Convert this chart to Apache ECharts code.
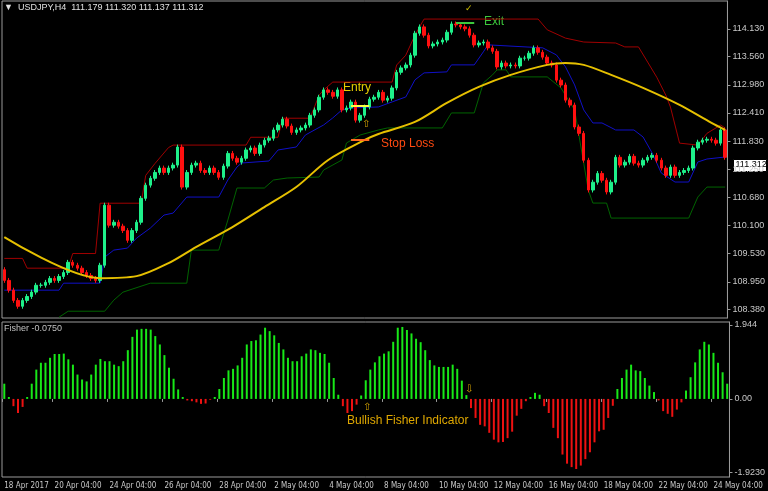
<!DOCTYPE html>
<html><head><meta charset="utf-8">
<script src="https://cdn.jsdelivr.net/npm/echarts@6/dist/echarts.min.js"></script>
<style>html,body{margin:0;padding:0;background:#000}#c{width:768px;height:491px}</style>
</head><body><div id="c"></div>
<script>
const firstOpen = 109.20;
const closes = [108.98,108.78,108.57,108.45,108.57,108.65,108.74,108.88,108.88,108.94,109.02,108.98,109.06,109.14,109.35,109.29,109.23,109.14,109.08,109.02,108.98,109.29,110.52,110.11,110.17,110.09,110.00,109.80,110.00,110.17,110.66,110.93,111.07,111.19,111.28,111.19,111.28,111.34,111.71,110.89,111.19,111.34,111.38,111.23,111.19,111.28,111.19,111.09,111.32,111.58,111.48,111.40,111.48,111.65,111.69,111.58,111.75,111.85,111.89,112.06,112.16,112.28,112.14,112.01,112.06,112.10,112.16,112.36,112.47,112.73,112.88,112.83,112.75,112.88,112.47,112.51,112.63,112.26,112.36,112.53,112.69,112.73,112.83,112.67,112.71,112.92,113.24,113.33,113.39,113.59,114.04,114.17,114.00,113.78,113.82,113.86,113.90,114.06,114.23,114.21,114.17,114.13,114.00,113.80,113.84,113.86,113.74,113.67,113.35,113.43,113.37,113.39,113.37,113.53,113.53,113.63,113.74,113.65,113.55,113.43,113.39,113.08,112.98,112.67,112.57,112.12,111.99,111.44,110.83,110.99,111.17,111.03,110.79,110.99,111.50,111.34,111.40,111.52,111.38,111.34,111.44,111.50,111.54,111.44,111.28,111.13,111.30,111.13,111.19,111.23,111.28,111.69,111.81,111.85,111.87,111.85,111.79,112.06,111.50];
const wick = 0.05;
const upperKnots = [[0,109.43],[4,109.43],[5,109.23],[14,109.23],[15,109.53],[20,109.53],[21,110.56],[30,110.56],[31,111.13],[33,111.37],[36,111.70],[37,111.75],[53,111.75],[54,111.91],[60,111.91],[61,112.30],[67,112.30],[69,112.77],[70,112.88],[72,113.04],[85,113.04],[86,113.39],[88,113.59],[90,114.00],[92,114.33],[117,114.33],[119,114.11],[123,113.94],[127,113.86],[134,113.84],[136,113.76],[139,113.76],[141,113.45],[143,113.14],[145,112.77],[146,112.53],[148,111.79],[152,111.75],[154,111.99],[157,112.16],[158,112.10]];
const midKnotsY = [[0,290],[12,290],[13,283],[21,283],[22,257],[24,250],[27,248],[29,238],[32,228],[35,215],[37,213],[40,197],[47,197],[49,180],[51,167],[52,163],[58,161],[60,150],[64,147],[66,135],[70,125],[72,118],[74,110],[76,108],[82,107],[85,102],[88,97],[90,80],[92,73],[97,72],[98,65],[103,65],[105,52],[106,45],[118,48],[121,55],[123,67],[125,85],[127,110],[129,123],[131,123],[134,130],[138,130],[140,137],[142,153],[144,173],[147,182],[150,182],[152,162],[154,159],[158,157]];
const lowKnotsY = [[12,317],[14,311],[22,311],[24,300],[26,292],[32,283],[40,283],[41,250],[47,250],[49,220],[51,188],[57,188],[59,180],[62,178],[69,177],[70,170],[74,160],[75,143],[78,135],[82,130],[84,128],[96,128],[98,113],[103,113],[105,83],[107,75],[108,70],[110,70],[111,77],[119,77],[122,88],[125,110],[128,190],[129,203],[132,203],[133,218],[150,218],[152,197],[154,187],[158,187]];
const maKnotsY = [[0,237],[21,278],[29,276],[36,263],[42,247],[50,227],[57,207],[64,187],[71,160],[79,140],[82,134],[90,122],[97,103],[104,87],[111,75],[119,65],[123,63],[127,65],[133,75],[140,88],[148,105],[155,123],[158,130]];
const fisher = [0.40,0.05,-0.19,-0.37,-0.21,0.05,0.40,0.77,0.95,0.95,1.08,1.18,1.18,1.19,1.04,0.90,0.64,0.51,0.46,0.64,0.90,1.05,0.99,0.99,0.90,0.86,0.99,1.28,1.63,1.82,1.84,1.84,1.82,1.65,1.43,1.15,0.82,0.53,0.25,0.05,-0.04,-0.06,-0.09,-0.13,-0.12,-0.02,0.05,0.26,0.55,0.75,0.79,0.88,1.08,1.43,1.52,1.54,1.69,1.87,1.78,1.67,1.47,1.30,1.08,0.99,0.99,1.12,1.19,1.30,1.28,1.21,1.18,0.95,0.55,0.11,-0.19,-0.37,-0.32,-0.15,0.09,0.49,0.77,0.96,1.12,1.19,1.25,1.50,1.87,1.89,1.81,1.72,1.58,1.49,1.28,1.02,0.88,0.84,0.84,0.84,0.90,0.79,0.48,0.10,-0.24,-0.50,-0.68,-0.72,-0.89,-1.07,-1.14,-1.13,-1.03,-0.86,-0.44,-0.26,-0.06,0.05,0.16,0.11,-0.19,-0.37,-0.76,-1.03,-1.46,-1.70,-1.79,-1.84,-1.75,-1.58,-1.40,-1.14,-0.85,-0.81,-0.50,-0.18,0.26,0.55,0.77,0.90,0.75,0.73,0.55,0.35,0.18,-0.04,-0.32,-0.39,-0.47,-0.28,-0.09,0.22,0.57,0.96,1.30,1.50,1.43,1.21,0.95,0.70,0.40,0.11];
const priceTicks = [108.380,108.950,109.530,110.100,110.680,111.250,111.830,112.410,112.980,113.560,114.130];
const fisherTicks = [1.944,0,-1.923];
const timeLabels = {0:'18 Apr 2017',11:'20 Apr 04:00',23:'24 Apr 04:00',35:'26 Apr 04:00',47:'28 Apr 04:00',59:'2 May 04:00',71:'4 May 04:00',83:'8 May 04:00',95:'10 May 04:00',107:'12 May 04:00',119:'16 May 04:00',131:'18 May 04:00',143:'22 May 04:00',155:'24 May 04:00'};

const rowToPrice = y => +(114.7245 - 0.0205*y).toFixed(3);
const N = closes.length;
const cats = closes.map((_,i)=>String(i));
const ohlc = closes.map((c,i)=>{const o=i?closes[i-1]:firstOpen;return [o,c,Math.min(o,c)-wick,Math.max(o,c)+wick];});
const midKnots = midKnotsY.map(([i,y])=>[i,rowToPrice(y)]);
const lowKnots = lowKnotsY.map(([i,y])=>[i,rowToPrice(y)]);
const maKnots = maKnotsY.map(([i,y])=>[i,rowToPrice(y)]);
const fis = fisher.slice(0,N);

const chart = echarts.init(document.getElementById('c'));
const txt = '#c8c8c8';
chart.setOption({
  backgroundColor:'#000', animation:false,
  grid:[{left:2,right:37,top:1,height:317,show:true,borderColor:'#9a9a9a',borderWidth:1},
        {left:2,right:37,top:322,height:155,show:true,borderColor:'#9a9a9a',borderWidth:1}],
  xAxis:[{type:'category',data:cats,gridIndex:0,boundaryGap:true,axisLine:{show:false},axisTick:{show:false},axisLabel:{show:false}},
         {type:'category',data:cats,gridIndex:1,boundaryGap:true,axisLine:{show:false},
          axisTick:{show:true,interval:(i)=>timeLabels[i]!==undefined,length:3,lineStyle:{color:'#9a9a9a'}},
          axisLabel:{interval:(i)=>timeLabels[i]!==undefined,formatter:(v,i)=>timeLabels[i]||'',color:txt,fontSize:8,fontFamily:'DejaVu Sans Condensed',align:'left',margin:5}}],
  yAxis:[{type:'value',gridIndex:0,position:'right',min:108.21,max:114.70,splitLine:{show:false},
          axisLine:{show:true,lineStyle:{color:'#9a9a9a'}},axisTick:{show:true,customValues:priceTicks,length:3},
          axisLabel:{customValues:priceTicks,formatter:v=>v.toFixed(3),color:txt,fontSize:9,fontFamily:'Liberation Sans',margin:5}},
         {type:'value',gridIndex:1,position:'right',min:-2.05,max:2.02,splitLine:{show:false},
          axisLine:{show:true,lineStyle:{color:'#9a9a9a'}},axisTick:{show:true,customValues:fisherTicks,length:3},
          axisLabel:{customValues:fisherTicks,formatter:v=>v===0?'0.00':(v<0?v.toFixed(4):v.toFixed(3)),color:txt,fontSize:9,fontFamily:'Liberation Sans',margin:5}}],
  series:[
    {type:'line',data:upperKnots,showSymbol:false,lineStyle:{color:'#a00000',width:1},z:2},
    {type:'line',data:midKnots,showSymbol:false,lineStyle:{color:'#1010c8',width:1},z:2},
    {type:'line',data:lowKnots,showSymbol:false,lineStyle:{color:'#006400',width:1},z:2},
    {type:'line',data:maKnots,showSymbol:false,smooth:0.3,lineStyle:{color:'#e6c000',width:2},z:4},
    {type:'candlestick',data:ohlc,barWidth:3,z:3,
     itemStyle:{color:'#1ef08a',color0:'#ff1010',borderColor:'#1ef08a',borderColor0:'#ff1010',borderWidth:1},
     markLine:{symbol:'none',silent:true,label:{show:false},data:[
       [{coord:['76',112.55],lineStyle:{color:'#ffff40',width:2,type:'solid'}},{coord:['80',112.55]}],
       [{coord:['76',111.86],lineStyle:{color:'#ff6a20',width:2,type:'solid'}},{coord:['80',111.86]}],
       [{coord:['99',114.25],lineStyle:{color:'#3cc83c',width:2,type:'solid'}},{coord:['103',114.25]}]
     ]}},
    {type:'bar',xAxisIndex:1,yAxisIndex:1,barWidth:2,data:fis.map(v=>({value:v,itemStyle:{color:v>=0?'#18e818':'#ee1111'}}))}
  ],
  graphic:[
    {type:'text',left:4,top:3,style:{text:'▼  USDJPY,H4  111.179 111.320 111.137 111.312',fill:'#e0e0e0',font:'9px Liberation Sans'}},
    {type:'text',left:4,top:324,style:{text:'Fisher -0.0750',fill:'#c0c0c0',font:'9px Liberation Sans'}},
    {type:'text',left:343,top:82,style:{text:'Entry',fill:'#e8d000',font:'12px Liberation Sans'}},
    {type:'text',left:362,top:119,style:{text:'⇧',fill:'#d0a000',font:'10px DejaVu Sans'}},
    {type:'text',left:381,top:138,style:{text:'Stop Loss',fill:'#ff4a10',font:'12px Liberation Sans'}},
    {type:'text',left:484,top:16,style:{text:'Exit',fill:'#3cc83c',font:'12px Liberation Sans'}},
    {type:'text',left:465,top:4,style:{text:'✓',fill:'#d0c000',font:'9px DejaVu Sans'}},
    {type:'text',left:363,top:402,style:{text:'⇧',fill:'#d0a000',font:'10px DejaVu Sans'}},
    {type:'text',left:465,top:384,style:{text:'⇩',fill:'#d0a000',font:'10px DejaVu Sans'}},
    {type:'text',left:347,top:415,style:{text:'Bullish Fisher Indicator',fill:'#e0a800',font:'12px Liberation Sans'}},
    {type:'group',left:733,top:159,children:[
      {type:'rect',shape:{x:0,y:0,width:33,height:12},style:{fill:'#fff',stroke:'#000'}},
      {type:'text',x:2,y:1,style:{text:'111.312',fill:'#000',font:'9px Liberation Sans'}}]}
  ]
});
</script></body></html>
